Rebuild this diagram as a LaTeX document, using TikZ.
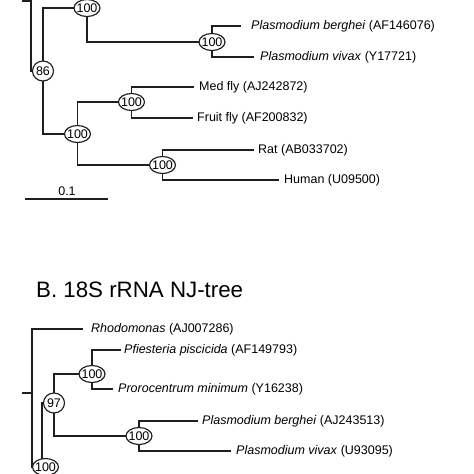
\documentclass[tikz,border=0pt]{standalone}
\usepackage{fontspec}
\setmainfont{Liberation Sans}
\pgfdeclarelayer{bg}
\pgfsetlayers{bg,main}
\begin{document}
\begin{tikzpicture}[x=1pt,y=-1pt,
  br/.style={line width=1.15pt, draw=black!88, line cap=rect},
  bs/.style={inner sep=0pt, minimum width=26pt, minimum height=17pt, font=\fontsize{12.5}{13}\selectfont},
  bsb/.style={inner sep=0pt, minimum width=21pt, minimum height=20pt, font=\fontsize{12.5}{13}\selectfont},
  lf/.style={anchor=west, inner sep=0pt, font=\fontsize{12.5}{14}\selectfont},
  ttl/.style={anchor=west, inner sep=0pt, font=\fontsize{22.3}{24}\selectfont}
]
\useasboundingbox (0,0) rectangle (474,474);
\clip (0,0) rectangle (474,474);

% ---------- Panel A ----------
\node[bs]  (a100a) at (87,8)    {100};
\node[bs]  (a100b) at (212,42)  {100};
\node[bsb] (a86)   at (43,71)   {86};
\node[bs]  (a100c) at (77.5,134) {100};
\node[bs]  (a100d) at (131.5,102) {100};
\node[bs]  (a100e) at (162.5,165) {100};

\coordinate (aroot) at (31,-12);
\coordinate (atick) at (23,1);
\coordinate (atickr) at (31,1);
\coordinate (afal) at (250,-8);
\coordinate (eBerA) at (240,26);
\coordinate (eVivA) at (253,57);
\coordinate (eMed)  at (193,87);
\coordinate (eFru)  at (192,118);
\coordinate (eRat)  at (253,150);
\coordinate (eHum)  at (278,180);

\node[lf] (tBerA) at (251,26) {\textit{Plasmodium berghei} (AF146076)};
\node[lf] (tVivA) at (260,57) {\textit{Plasmodium vivax} (Y17721)};
\node[lf] (tMed)  at (199,87) {Med fly (AJ242872)};
\node[lf] (tFru)  at (197,118) {Fruit fly (AF200832)};
\node[lf] (tRat)  at (258,150) {Rat (AB033702)};
\node[lf] (tHum)  at (284,180) {Human (U09500)};

\coordinate (sbl) at (26,199);
\coordinate (sbr) at (107,199);
\node[inner sep=0pt, anchor=south, font=\fontsize{12.5}{14}\selectfont] (sbt) at (67,196) {0.1};

% ---------- Panel B ----------
\node[ttl] (title) at (36,290) {B. 18S rRNA NJ-tree};

\node[bs]  (b100f) at (92,374)  {100};
\node[bsb] (b97)   at (54,403)  {97};
\node[bs]  (b100g) at (139,436) {100};
\node[bs]  (b100h) at (45.5,467) {100};

\coordinate (btop)  at (32,329);
\coordinate (bbot)  at (32,467);
\coordinate (btick) at (23,393);
\coordinate (btickr) at (32,393);
\coordinate (eRho) at (82,329);
\coordinate (ePfi) at (120,350);
\coordinate (ePro) at (112,389);
\coordinate (eBerB) at (197,421);
\coordinate (eVivB) at (230,451);
\coordinate (bdown) at (45.5,490);

\node[lf] (tRho) at (91,329) {\textit{Rhodomonas} (AJ007286)};
\node[lf] (tPfi) at (124,350) {\textit{Pfiesteria piscicida} (AF149793)};
\node[lf] (tPro) at (118,389) {\textit{Prorocentrum minimum} (Y16238)};
\node[lf] (tBerB) at (202,421) {\textit{Plasmodium berghei} (AJ243513)};
\node[lf] (tVivB) at (236,451) {\textit{Plasmodium vivax} (U93095)};

\begin{pgfonlayer}{bg}
  % panel A edges
  \draw[br] (atick) -- (atickr);
  \draw[br] (aroot) |- (a86.west);
  \draw[br] (a86.north) |- (a100a.west);
  \draw[br] (a86.south) |- (a100c.west);
  \draw[br] (a100a.north) |- (afal);
  \draw[br] (a100a.south) |- (a100b.west);
  \draw[br] (a100b.north) |- (eBerA);
  \draw[br] (a100b.south) |- (eVivA);
  \draw[br] (a100c.north) |- (a100d.west);
  \draw[br] (a100c.south) |- (a100e.west);
  \draw[br] (a100d.north) |- (eMed);
  \draw[br] (a100d.south) |- (eFru);
  \draw[br] (a100e.north) |- (eRat);
  \draw[br] (a100e.south) |- (eHum);
  \draw[br] (sbl) -- (sbr);
  % panel B edges
  \draw[br] (btick) -- (btickr);
  \draw[br] (eRho) -| (btop) -- (bbot) -- (b100h.west);
  \draw[br] ([xshift=-3.5pt]b100h.north) |- (b97.west);
  \draw[br] (b100h.south) -- (bdown);
  \draw[br] (b97.north) |- (b100f.west);
  \draw[br] (b97.south) |- (b100g.west);
  \draw[br] (b100f.north) |- (ePfi);
  \draw[br] (b100f.south) |- (ePro);
  \draw[br] (b100g.north) |- (eBerB);
  \draw[br] (b100g.south) |- (eVivB);
  % support ellipses
  \foreach \n in {a100a,a100b,a100c,a100d,a100e,b100f,b100g,b100h}
    \draw[br, fill=white] (\n) ellipse [x radius=13pt, y radius=8.5pt];
  \foreach \n in {a86,b97}
    \draw[br, fill=white] (\n) ellipse [x radius=10.5pt, y radius=10pt];
\end{pgfonlayer}
\end{tikzpicture}
\end{document}
